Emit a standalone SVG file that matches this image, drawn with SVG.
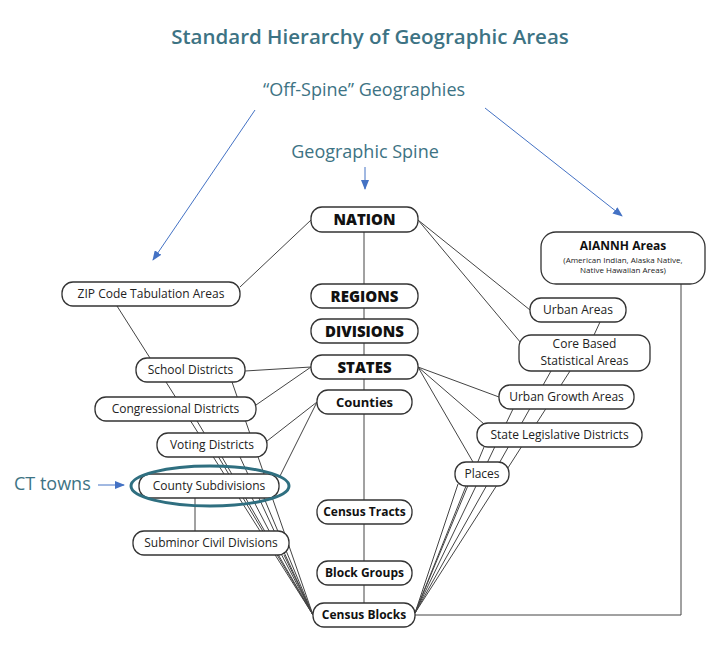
<svg xmlns="http://www.w3.org/2000/svg" width="714" height="645" viewBox="0 0 714 645">
<defs>
<marker id="ah" markerWidth="10" markerHeight="8" refX="9" refY="4" orient="auto" markerUnits="userSpaceOnUse"><path d="M0,0 L10,4 L0,8 z" fill="#4472c4"/></marker>
<style>
.b{fill:#fff;stroke:#333;stroke-width:1.3}
.t{font-family:"Open Sans","Liberation Sans",sans-serif;font-size:12px;fill:#222;text-anchor:middle}
.s{font-family:"Open Sans","Liberation Sans",sans-serif;font-size:8px;fill:#222;text-anchor:middle}
.h{font-family:"Open Sans","Liberation Sans",sans-serif;font-size:15px;font-weight:800;fill:#111;text-anchor:middle}
.m{font-family:"Open Sans","Liberation Sans",sans-serif;font-size:12px;font-weight:700;fill:#111;text-anchor:middle}
.c{stroke:#444;stroke-width:1;fill:none}
.a{stroke:#4472c4;stroke-width:1;marker-end:url(#ah)}
.lab{font-family:"Open Sans","Liberation Sans",sans-serif;fill:#3d7384;text-anchor:middle;font-size:18px}
</style>
</defs>
<rect width="714" height="645" fill="#fff"/>
<text class="lab" x="370" y="44" style="font-size:20.5px;font-weight:600">Standard Hierarchy of Geographic Areas</text>
<text class="lab" x="364" y="96">“Off-Spine” Geographies</text>
<text class="lab" x="365" y="158">Geographic Spine</text>
<text class="lab" x="14" y="490" style="text-anchor:start">CT towns</text>
<g id="arrows">
<line class="a" x1="365" y1="167" x2="365" y2="189"/>
<line class="a" x1="255" y1="110" x2="153" y2="260"/>
<line class="a" x1="485" y1="108" x2="622" y2="216"/>
<line class="a" x1="98" y1="485" x2="124" y2="485"/>
</g>
<g id="connectors">
<line class="c" x1="364" y1="232" x2="364" y2="603"/>
<line class="c" x1="311" y1="220" x2="240" y2="287"/>
<line class="c" x1="418" y1="220" x2="530" y2="310"/>
<line class="c" x1="418" y1="220" x2="521" y2="343"/>
<line class="c" x1="600" y1="322" x2="594" y2="335"/>
<line class="c" x1="418" y1="367" x2="499" y2="397"/>
<line class="c" x1="418" y1="367" x2="484" y2="424"/>
<line class="c" x1="418" y1="367" x2="473" y2="462"/>
<line class="c" x1="415" y1="613" x2="570" y2="371"/>
<line class="c" x1="415" y1="613" x2="551" y2="371"/>
<line class="c" x1="415" y1="613" x2="513" y2="409"/>
<line class="c" x1="415" y1="613" x2="484" y2="447"/>
<line class="c" x1="415" y1="613" x2="466" y2="486"/>
<line class="c" x1="415" y1="613" x2="458" y2="484"/>
<polyline class="c" points="415,615 681,615 681,284"/>
<line class="c" x1="311" y1="367" x2="245" y2="371"/>
<line class="c" x1="311" y1="367" x2="256" y2="405"/>
<line class="c" x1="317" y1="402" x2="267" y2="441"/>
<line class="c" x1="317" y1="402" x2="279" y2="478"/>
<line class="c" x1="117" y1="306" x2="150" y2="358"/>
<line class="c" x1="195" y1="498" x2="195" y2="531"/>
<line class="c" x1="313" y1="615" x2="166" y2="382"/>
<line class="c" x1="313" y1="615" x2="232" y2="382"/>
<line class="c" x1="313" y1="615" x2="197" y2="421"/>
<line class="c" x1="313" y1="615" x2="222" y2="457"/>
<line class="c" x1="313" y1="615" x2="240" y2="457"/>
<line class="c" x1="313" y1="615" x2="252" y2="498"/>
<line class="c" x1="313" y1="615" x2="264" y2="498"/>
<line class="c" x1="313" y1="615" x2="284" y2="555"/>
</g>
<g id="nation"><rect class="b" x="311" y="207" width="107" height="25" rx="11"/><text class="h" x="364.5" y="225">NATION</text></g>
<g id="regions"><rect class="b" x="311" y="284" width="107" height="24" rx="11"/><text class="h" x="364.5" y="302">REGIONS</text></g>
<g id="divisions"><rect class="b" x="311" y="319" width="107" height="24" rx="11"/><text class="h" x="364.5" y="337">DIVISIONS</text></g>
<g id="states"><rect class="b" x="311" y="355" width="107" height="24" rx="11"/><text class="h" x="364.5" y="373">STATES</text></g>
<g id="counties"><rect class="b" x="317" y="390" width="95" height="24" rx="11"/><text class="m" x="364.5" y="407" style="font-size:13px">Counties</text></g>
<g id="tracts"><rect class="b" x="317" y="500" width="95" height="24" rx="11"/><text class="m" x="364.5" y="516">Census Tracts</text></g>
<g id="blockgroups"><rect class="b" x="317" y="561" width="95" height="24" rx="11"/><text class="m" x="364.5" y="577">Block Groups</text></g>
<g id="blocks"><rect class="b" x="313" y="603" width="102" height="24" rx="11"/><text class="m" x="364" y="619">Census Blocks</text></g>
<g id="aiannh"><rect class="b" x="541" y="232" width="164" height="52" rx="15"/><text class="m" x="623" y="250">AIANNH Areas</text><text class="s" x="623" y="263">(American Indian, Alaska Native,</text><text class="s" x="623" y="273">Native Hawaiian Areas)</text></g>
<g id="urban"><rect class="b" x="530" y="298" width="96" height="24" rx="11"/><text class="t" x="578" y="314">Urban Areas</text></g>
<g id="cbsa"><rect class="b" x="519" y="335" width="131" height="36" rx="12"/><text class="t" x="584.5" y="348">Core Based</text><text class="t" x="584.5" y="365">Statistical Areas</text></g>
<g id="uga"><rect class="b" x="499" y="385" width="135" height="24" rx="11"/><text class="t" x="566.5" y="401">Urban Growth Areas</text></g>
<g id="sld"><rect class="b" x="477" y="423" width="165" height="24" rx="11"/><text class="t" x="559.5" y="439">State Legislative Districts</text></g>
<g id="places"><rect class="b" x="455" y="462" width="54" height="24" rx="11"/><text class="t" x="482" y="478">Places</text></g>
<g id="zip"><rect class="b" x="62" y="282" width="178" height="24" rx="11"/><text class="t" x="151" y="298">ZIP Code Tabulation Areas</text></g>
<g id="school"><rect class="b" x="136" y="358" width="109" height="24" rx="11"/><text class="t" x="190.5" y="374">School Districts</text></g>
<g id="cong"><rect class="b" x="95" y="397" width="161" height="24" rx="11"/><text class="t" x="175.5" y="413">Congressional Districts</text></g>
<g id="voting"><rect class="b" x="157" y="433" width="110" height="24" rx="11"/><text class="t" x="212" y="449">Voting Districts</text></g>
<g id="cousub"><rect class="b" x="139" y="474" width="140" height="24" rx="11"/><text class="t" x="209" y="490">County Subdivisions</text></g>
<g id="subminor"><rect class="b" x="133" y="531" width="156" height="24" rx="11"/><text class="t" x="211" y="547">Subminor Civil Divisions</text></g>
<ellipse cx="210" cy="486" rx="79" ry="20" fill="none" stroke="#2f6f80" stroke-width="3"/>
</svg>
